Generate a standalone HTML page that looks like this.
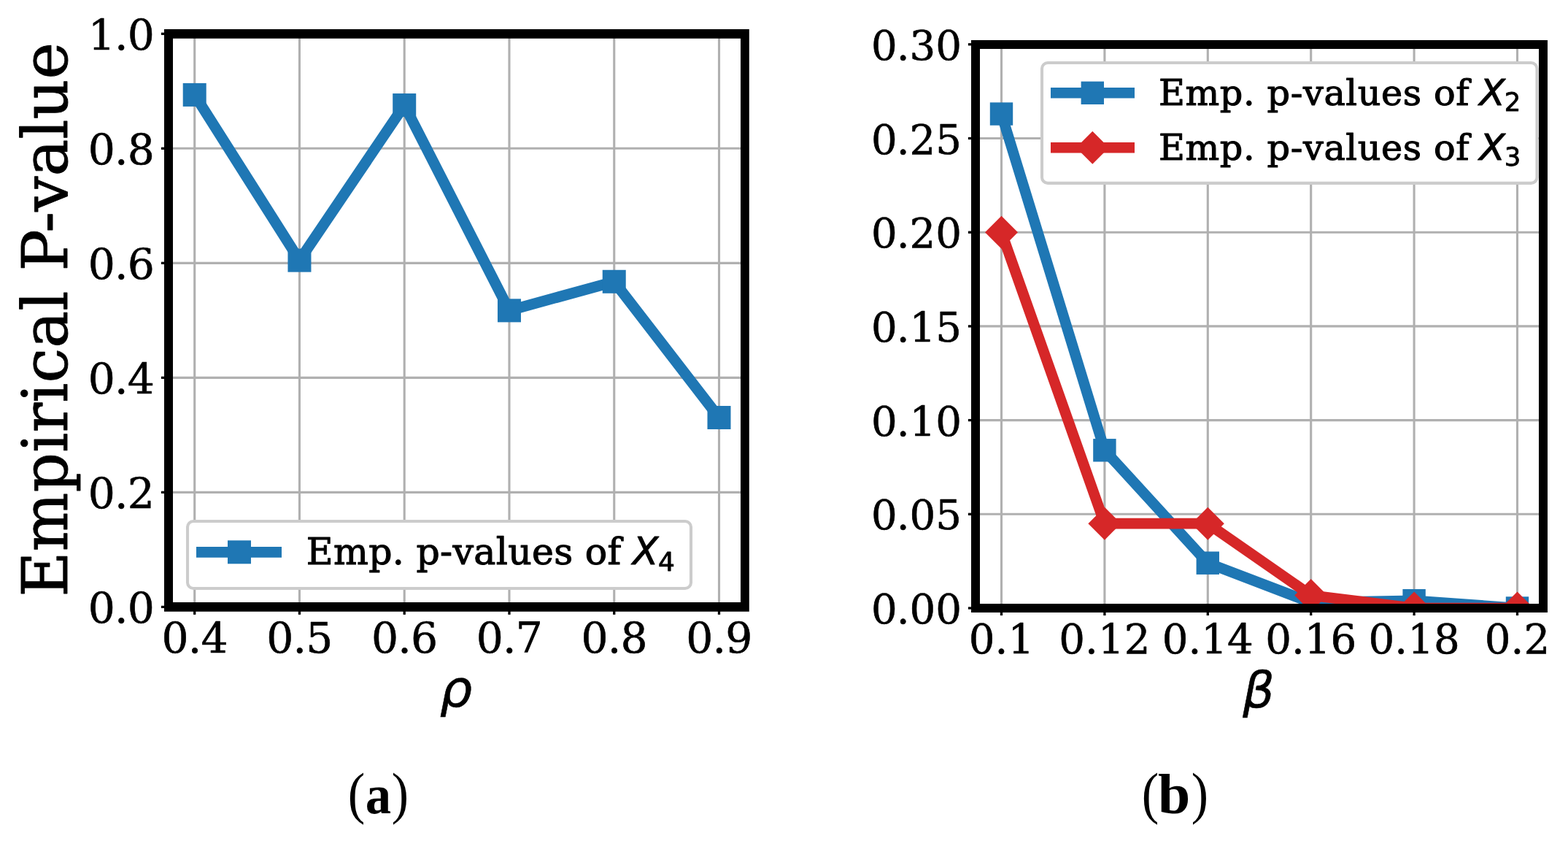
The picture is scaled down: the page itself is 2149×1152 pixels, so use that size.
<!DOCTYPE html>
<html lang="en"><head><meta charset="utf-8"><title>Empirical P-values</title>
<style>
html,body{margin:0;padding:0;background:#fff;}
body{width:2149px;height:1152px;overflow:hidden;}
svg{display:block;}
text{font-family:"DejaVu Serif","Liberation Serif",serif;fill:#000;stroke:#000;stroke-linejoin:round;}
.mi{font-family:"DejaVu Sans","Liberation Sans",sans-serif;font-style:italic;}
.mn{font-family:"DejaVu Sans","Liberation Sans",sans-serif;}
.cap{font-family:"Liberation Serif","DejaVu Serif",serif;stroke:none;}
</style></head><body>
<svg width="2149" height="1152" viewBox="0 0 2149 1152">
<rect x="0" y="0" width="2149" height="1152" fill="#ffffff"/>
<g id="axa">
<clipPath id="clip-axa"><rect x="231" y="46.3" width="789.9" height="785.1"/></clipPath>
<g stroke="#b0b0b0" stroke-width="3.1" fill="none">
<line x1="266.7" y1="46.3" x2="266.7" y2="831.4"/>
<line x1="410.46" y1="46.3" x2="410.46" y2="831.4"/>
<line x1="554.22" y1="46.3" x2="554.22" y2="831.4"/>
<line x1="697.98" y1="46.3" x2="697.98" y2="831.4"/>
<line x1="841.74" y1="46.3" x2="841.74" y2="831.4"/>
<line x1="985.5" y1="46.3" x2="985.5" y2="831.4"/>
<line x1="231" y1="831.4" x2="1020.9" y2="831.4"/>
<line x1="231" y1="674.38" x2="1020.9" y2="674.38"/>
<line x1="231" y1="517.36" x2="1020.9" y2="517.36"/>
<line x1="231" y1="360.34" x2="1020.9" y2="360.34"/>
<line x1="231" y1="203.32" x2="1020.9" y2="203.32"/>
<line x1="231" y1="46.3" x2="1020.9" y2="46.3"/>
</g>
<g stroke="#000" stroke-width="3.3" fill="none">
<line x1="266.7" y1="831.4" x2="266.7" y2="841.9"/>
<line x1="410.46" y1="831.4" x2="410.46" y2="841.9"/>
<line x1="554.22" y1="831.4" x2="554.22" y2="841.9"/>
<line x1="697.98" y1="831.4" x2="697.98" y2="841.9"/>
<line x1="841.74" y1="831.4" x2="841.74" y2="841.9"/>
<line x1="985.5" y1="831.4" x2="985.5" y2="841.9"/>
<line x1="231" y1="831.4" x2="220.9" y2="831.4"/>
<line x1="231" y1="674.38" x2="220.9" y2="674.38"/>
<line x1="231" y1="517.36" x2="220.9" y2="517.36"/>
<line x1="231" y1="360.34" x2="220.9" y2="360.34"/>
<line x1="231" y1="203.32" x2="220.9" y2="203.32"/>
<line x1="231" y1="46.3" x2="220.9" y2="46.3"/>
</g>
<g clip-path="url(#clip-axa)">
<polyline points="266.7,129.91 410.46,356.65 554.22,144.04 697.98,425.35 841.74,385.78 985.5,572" fill="none" stroke="#1f77b4" stroke-width="14.8" stroke-linejoin="round" stroke-linecap="square"/>
<rect x="250.7" y="113.91" width="32" height="32" fill="#1f77b4"/>
<rect x="394.46" y="340.65" width="32" height="32" fill="#1f77b4"/>
<rect x="538.22" y="128.04" width="32" height="32" fill="#1f77b4"/>
<rect x="681.98" y="409.35" width="32" height="32" fill="#1f77b4"/>
<rect x="825.74" y="369.78" width="32" height="32" fill="#1f77b4"/>
<rect x="969.5" y="556" width="32" height="32" fill="#1f77b4"/>
</g>
<path fill="#000" fill-rule="evenodd" d="M225 40H1026.8V837.8H225ZM237 52.8H1015V825H237Z"/>
<g font-size="58.33px" stroke-width="0.6" letter-spacing="-0.8px">
<text x="266.7" y="894" text-anchor="middle">0.4</text>
<text x="410.46" y="894" text-anchor="middle">0.5</text>
<text x="554.22" y="894" text-anchor="middle">0.6</text>
<text x="697.98" y="894" text-anchor="middle">0.7</text>
<text x="841.74" y="894" text-anchor="middle">0.8</text>
<text x="985.5" y="894" text-anchor="middle">0.9</text>
<text x="211" y="853" text-anchor="end">0.0</text>
<text x="211" y="695.98" text-anchor="end">0.2</text>
<text x="211" y="538.96" text-anchor="end">0.4</text>
<text x="211" y="381.94" text-anchor="end">0.6</text>
<text x="211" y="224.92" text-anchor="end">0.8</text>
<text x="211" y="67.9" text-anchor="end">1.0</text>
</g>
<rect x="257" y="714" width="690" height="92" rx="8" ry="8" fill="#ffffff" stroke="#cccccc" stroke-width="4.1"/>
<line x1="269" y1="756.3" x2="386" y2="756.3" stroke="#1f77b4" stroke-width="14.8" stroke-linecap="butt"/>
<rect x="312" y="740.3" width="32" height="32" fill="#1f77b4"/>
<text x="419.8" y="773" font-size="50.5px" stroke-width="1.1" letter-spacing="0.3px">Emp. p-values of</text>
<text class="mi" transform="translate(867,773) scale(1.01,1)" font-size="51px" stroke-width="1">X</text>
<text class="mn" x="902" y="781.5" font-size="36px" stroke-width="0.8">4</text>
</g>
<text transform="translate(92.2,437.85) rotate(-90)" text-anchor="middle" font-size="85.35px" stroke-width="0.9">Empirical P-value</text>
<text class="mi" x="624.95" y="967.5" text-anchor="middle" font-size="70px" stroke-width="0.6">ρ</text>
<g id="axb">
<clipPath id="clip-axb"><rect x="1337.1" y="60.8" width="777.8" height="772.2"/></clipPath>
<g stroke="#b0b0b0" stroke-width="3.1" fill="none">
<line x1="1372.5" y1="60.8" x2="1372.5" y2="833"/>
<line x1="1513.9" y1="60.8" x2="1513.9" y2="833"/>
<line x1="1655.3" y1="60.8" x2="1655.3" y2="833"/>
<line x1="1796.7" y1="60.8" x2="1796.7" y2="833"/>
<line x1="1938.1" y1="60.8" x2="1938.1" y2="833"/>
<line x1="2079.5" y1="60.8" x2="2079.5" y2="833"/>
<line x1="1337.1" y1="833" x2="2114.9" y2="833"/>
<line x1="1337.1" y1="704.3" x2="2114.9" y2="704.3"/>
<line x1="1337.1" y1="575.6" x2="2114.9" y2="575.6"/>
<line x1="1337.1" y1="446.9" x2="2114.9" y2="446.9"/>
<line x1="1337.1" y1="318.2" x2="2114.9" y2="318.2"/>
<line x1="1337.1" y1="189.5" x2="2114.9" y2="189.5"/>
<line x1="1337.1" y1="60.8" x2="2114.9" y2="60.8"/>
</g>
<g stroke="#000" stroke-width="3.3" fill="none">
<line x1="1372.5" y1="833" x2="1372.5" y2="843.1"/>
<line x1="1513.9" y1="833" x2="1513.9" y2="843.1"/>
<line x1="1655.3" y1="833" x2="1655.3" y2="843.1"/>
<line x1="1796.7" y1="833" x2="1796.7" y2="843.1"/>
<line x1="1938.1" y1="833" x2="1938.1" y2="843.1"/>
<line x1="2079.5" y1="833" x2="2079.5" y2="843.1"/>
<line x1="1337.1" y1="833" x2="1326.9" y2="833"/>
<line x1="1337.1" y1="704.3" x2="1326.9" y2="704.3"/>
<line x1="1337.1" y1="575.6" x2="1326.9" y2="575.6"/>
<line x1="1337.1" y1="446.9" x2="1326.9" y2="446.9"/>
<line x1="1337.1" y1="318.2" x2="1326.9" y2="318.2"/>
<line x1="1337.1" y1="189.5" x2="1326.9" y2="189.5"/>
<line x1="1337.1" y1="60.8" x2="1326.9" y2="60.8"/>
</g>
<g clip-path="url(#clip-axb)">
<polyline points="1372.5,156.04 1513.9,616.78 1655.3,771.22 1796.7,825.28 1938.1,822.7 2079.5,833" fill="none" stroke="#1f77b4" stroke-width="14.6" stroke-linejoin="round" stroke-linecap="square"/>
<rect x="1356.8" y="140.34" width="31.4" height="31.4" fill="#1f77b4"/>
<rect x="1498.2" y="601.08" width="31.4" height="31.4" fill="#1f77b4"/>
<rect x="1639.6" y="755.52" width="31.4" height="31.4" fill="#1f77b4"/>
<rect x="1781" y="809.58" width="31.4" height="31.4" fill="#1f77b4"/>
<rect x="1922.4" y="807" width="31.4" height="31.4" fill="#1f77b4"/>
<rect x="2063.8" y="817.3" width="31.4" height="31.4" fill="#1f77b4"/>
<polyline points="1372.5,318.2 1513.9,717.17 1655.3,717.17 1796.7,815.5 1938.1,833 2079.5,833" fill="none" stroke="#d62728" stroke-width="14.6" stroke-linejoin="round" stroke-linecap="square"/>
<polygon points="1372.5,295.7 1395,318.2 1372.5,340.7 1350,318.2" fill="#d62728"/>
<polygon points="1513.9,694.67 1536.4,717.17 1513.9,739.67 1491.4,717.17" fill="#d62728"/>
<polygon points="1655.3,694.67 1677.8,717.17 1655.3,739.67 1632.8,717.17" fill="#d62728"/>
<polygon points="1796.7,793 1819.2,815.5 1796.7,838 1774.2,815.5" fill="#d62728"/>
<polygon points="1938.1,810.5 1960.6,833 1938.1,855.5 1915.6,833" fill="#d62728"/>
<polygon points="2079.5,810.5 2102,833 2079.5,855.5 2057,833" fill="#d62728"/>
</g>
<path fill="#000" fill-rule="evenodd" d="M1331 55H2121V839H1331ZM1343 67H2109V827H1343Z"/>
<g font-size="56.2px" stroke-width="0.6" letter-spacing="0px">
<text x="1372.5" y="895" text-anchor="middle">0.1</text>
<text x="1513.9" y="895" text-anchor="middle">0.12</text>
<text x="1655.3" y="895" text-anchor="middle">0.14</text>
<text x="1796.7" y="895" text-anchor="middle">0.16</text>
<text x="1938.1" y="895" text-anchor="middle">0.18</text>
<text x="2079.5" y="895" text-anchor="middle">0.2</text>
<text x="1318" y="854" text-anchor="end" dx="0 -1">0.00</text>
<text x="1318" y="725.3" text-anchor="end" dx="0 -1">0.05</text>
<text x="1318" y="596.6" text-anchor="end" dx="0 -1">0.10</text>
<text x="1318" y="467.9" text-anchor="end" dx="0 -1">0.15</text>
<text x="1318" y="339.2" text-anchor="end" dx="0 -1">0.20</text>
<text x="1318" y="210.5" text-anchor="end" dx="0 -1">0.25</text>
<text x="1318" y="81.8" text-anchor="end" dx="0 -1">0.30</text>
</g>
<rect x="1428" y="86" width="678.5" height="164.9" rx="8" ry="8" fill="#ffffff" stroke="#cccccc" stroke-width="4.1"/>
<line x1="1440" y1="127.3" x2="1555" y2="127.3" stroke="#1f77b4" stroke-width="14.6" stroke-linecap="butt"/>
<rect x="1481.6" y="111.6" width="31.4" height="31.4" fill="#1f77b4"/>
<text x="1587.9" y="144" font-size="49.3px" stroke-width="1.1" letter-spacing="0.6px">Emp. p-values of</text>
<text class="mi" transform="translate(2027.5,144) scale(1.04,1)" font-size="49.5px" stroke-width="1">X</text>
<text class="mn" x="2061.8" y="152" font-size="35.5px" stroke-width="0.8">2</text>
<line x1="1440" y1="202.3" x2="1555" y2="202.3" stroke="#d62728" stroke-width="14.6" stroke-linecap="butt"/>
<polygon points="1497.3,179.8 1519.8,202.3 1497.3,224.8 1474.8,202.3" fill="#d62728"/>
<text x="1587.9" y="219" font-size="49.3px" stroke-width="1.1" letter-spacing="0.6px">Emp. p-values of</text>
<text class="mi" transform="translate(2027.5,219) scale(1.04,1)" font-size="49.5px" stroke-width="1">X</text>
<text class="mn" x="2061.8" y="227" font-size="35.5px" stroke-width="0.8">3</text>
</g>
<text class="mi" x="1725" y="969.2" text-anchor="middle" font-size="68px" stroke-width="0.6">β</text>
<text class="cap" transform="translate(476.82,1112.56) scale(0.9126,1)" font-size="77.35px" font-weight="normal">(</text>
<text class="cap" transform="translate(500.7,1113.74) scale(0.9300,1)" font-size="76.04px" font-weight="bold">a</text>
<text class="cap" transform="translate(536.73,1112.56) scale(0.9037,1)" font-size="77.35px" font-weight="normal">)</text>
<text class="cap" transform="translate(1564.82,1112.56) scale(0.9126,1)" font-size="77.35px" font-weight="normal">(</text>
<text class="cap" transform="translate(1587,1113.71) scale(1.0112,1)" font-size="78.72px" font-weight="bold">b</text>
<text class="cap" transform="translate(1632.73,1112.56) scale(0.9037,1)" font-size="77.35px" font-weight="normal">)</text>
</svg>
</body></html>
